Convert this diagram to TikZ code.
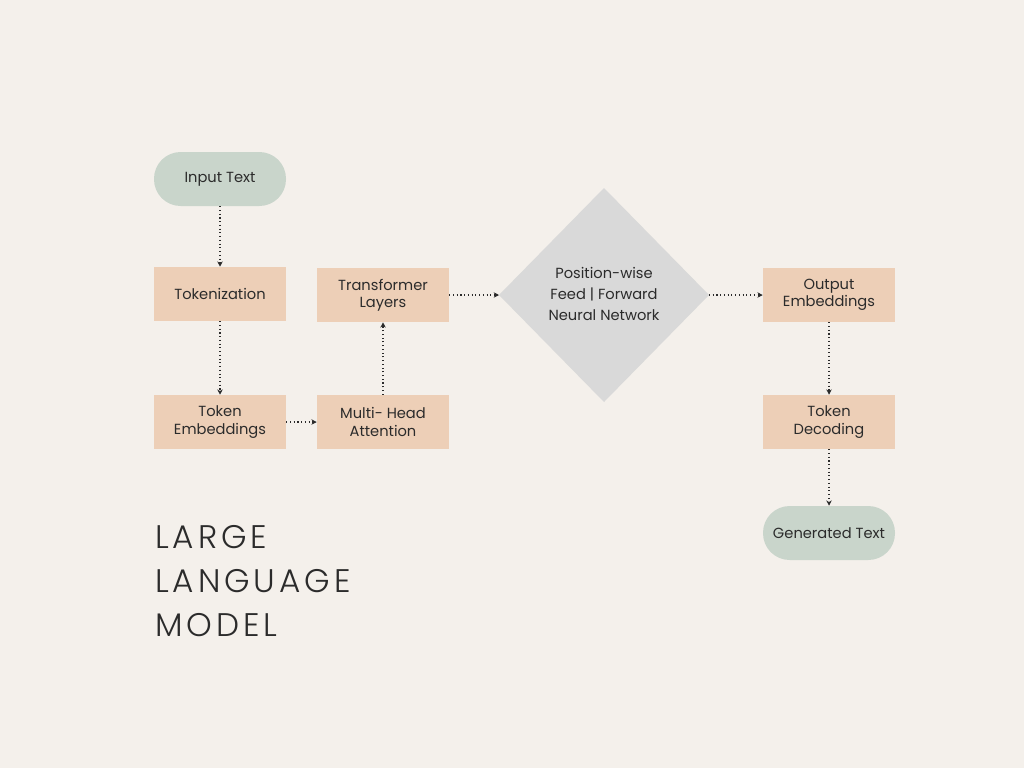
\documentclass[tikz,border=0pt]{standalone}
\usepackage{fontspec}
\setmainfont{Poppins}
\newfontfamily\titlefont[LetterSpace=12]{Poppins Light}
\usetikzlibrary{shapes.geometric,arrows.meta}
\definecolor{bg}{HTML}{F4F0EB}
\definecolor{peach}{HTML}{EDCFB7}
\definecolor{sage}{HTML}{C9D5CB}
\definecolor{dgray}{HTML}{D9D9D9}
\definecolor{ink}{HTML}{2B2B2B}
\tikzset{
 box/.style={fill=peach,minimum width=99pt,minimum height=40.5pt,align=center,font=\fontsize{11}{13}\selectfont,text=ink,inner sep=1pt},
 pill/.style={fill=sage,rounded corners=20pt,minimum width=99pt,minimum height=40.5pt,align=center,font=\fontsize{11}{13}\selectfont,text=ink},
 conn/.style={dotted,thick,-{Stealth[length=4pt,width=4pt]},ink}
}
\begin{document}
\begin{tikzpicture}[x=0.75pt,y=-0.75pt]
\fill[bg] (0,0) rectangle (1024,768);
\useasboundingbox (0,0) rectangle (1024,768);
\node[pill] (in) at (220,179) {Input Text};
\node[box] (tok) at (220,294) {Tokenization};
\node[box] (emb) at (220,422) {Token\\Embeddings};
\node[box] (mha) at (383,422) {Multi- Head\\Attention};
\node[box] (tl) at (383,295) {Transformer\\Layers};
\fill[dgray] (604,188) -- (709,295) -- (604,402) -- (499,295) -- cycle;
\node[align=center,font=\fontsize{11}{16}\selectfont,text=ink] (ff) at (604,294) {Position-wise\\Feed | Forward\\Neural Network};
\coordinate (dl) at (499,295);
\coordinate (dr) at (709,295);
\node[box] (oe) at (829,295) {Output\\Embeddings};
\node[box] (td) at (829,422) {Token\\Decoding};
\node[pill] (gt) at (829,533) {Generated Text};
\draw[conn] (in) -- (tok);
\draw[conn] (tok) -- (emb);
\draw[conn] (emb) -- (mha);
\draw[conn] (mha) -- (tl);
\draw[conn] (tl) -- (dl);
\draw[conn] (dr) -- (oe);
\draw[conn] (oe) -- (td);
\draw[conn] (td) -- (gt);
\node[anchor=north west,align=left,text=ink,font=\titlefont\fontsize{24.5}{33}\selectfont,inner sep=0pt] (title) at (155,525) {LARGE\\LANGUAGE\\MODEL};
\end{tikzpicture}
\end{document}
